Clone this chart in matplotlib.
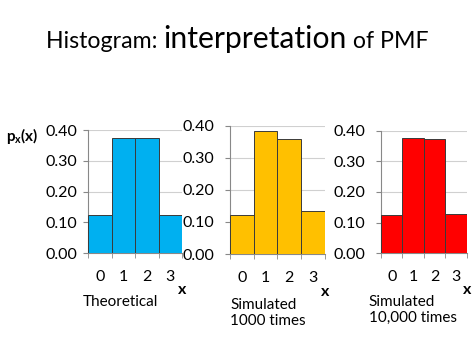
import matplotlib
matplotlib.use("Agg")
import matplotlib.pyplot as plt

plt.rcParams["font.family"] = ["Lato", "DejaVu Sans"]
plt.rcParams["mathtext.fontset"] = "custom"
plt.rcParams["mathtext.rm"] = "Lato"
plt.rcParams["mathtext.bf"] = "Lato:bold"

outcomes = [0, 1, 2, 3]
theoretical = [0.125, 0.375, 0.375, 0.125]
sim_1000 = [0.122, 0.385, 0.358, 0.135]
sim_10000 = [0.125, 0.375, 0.374, 0.129]
y_ticks = [0.0, 0.1, 0.2, 0.3, 0.4]

# values, colour, caption, axes rect, y label pad, caption x offset
panels = [
    (theoretical, "#00B0F0", "Theoretical", [0.1857, 0.2873, 0.1983, 0.3465], 4.5, -0.055),
    (sim_1000, "#FFC000", "Simulated\n1000 times", [0.4852, 0.2845, 0.2004, 0.3606], 7.5, 0.0),
    (sim_10000, "#FF0000", "Simulated\n10,000 times", [0.8038, 0.2865, 0.1814, 0.3454], 7.5, -0.14),
]

fig = plt.figure(figsize=(4.74, 3.55), dpi=100)

for vals, color, caption, rect, ypad, cap_x in panels:
    ax = fig.add_axes(rect)
    ax.bar(outcomes, vals, width=1.0, color=color, edgecolor="#3a3a3a",
           linewidth=0.7, zorder=3)
    ax.set_xlim(-0.5, 3.5)
    ax.set_ylim(0, 0.4)
    ax.set_yticks(y_ticks)
    ax.set_yticklabels([f"{v:.2f}" for v in y_ticks], fontsize=11.5)
    ax.set_xticks(outcomes)
    ax.set_xticklabels([str(o) for o in outcomes], fontsize=11.5)
    ax.set_xticks([o - 0.5 for o in outcomes] + [3.5], minor=True)
    ax.tick_params(axis="x", which="major", length=0, pad=12)
    ax.tick_params(axis="x", which="minor", length=3.5, color="#888888")
    ax.tick_params(axis="y", length=3.5, color="#888888", pad=ypad)
    ax.grid(axis="y", color="#d0d0d0", linewidth=0.8, zorder=0)
    for s in ["top", "right"]:
        ax.spines[s].set_visible(False)
    ax.spines["left"].set_color("#888888")
    ax.spines["bottom"].set_color("#888888")
    ax.text(cap_x, -0.34, caption, transform=ax.transAxes, fontsize=11,
            va="top", ha="left", linespacing=1.2)
    ax.text(1.0, -0.30, "x", transform=ax.transAxes, fontsize=11.5,
            fontweight="bold", va="center", ha="center")

fig.text(0.012, 0.617, r"$\mathbf{p_x(x)}$", fontsize=11, va="center",
         ha="left")

# title with a larger middle word
parts = [("Histogram: ", 16.7), ("interpretation", 21.7), (" of PMF", 16.7)]
renderer = fig.canvas.get_renderer()
texts = []
x = 0.0
for s, size in parts:
    t = fig.text(x, 0.865, s, fontsize=size, ha="left", va="baseline")
    fig.canvas.draw()
    w = t.get_window_extent(renderer).width / fig.bbox.width
    texts.append((t, w))
    x += w
total = x
x = 0.5 - total / 2
for t, w in texts:
    t.set_x(x)
    x += w

fig.savefig("out.png", dpi=100)
